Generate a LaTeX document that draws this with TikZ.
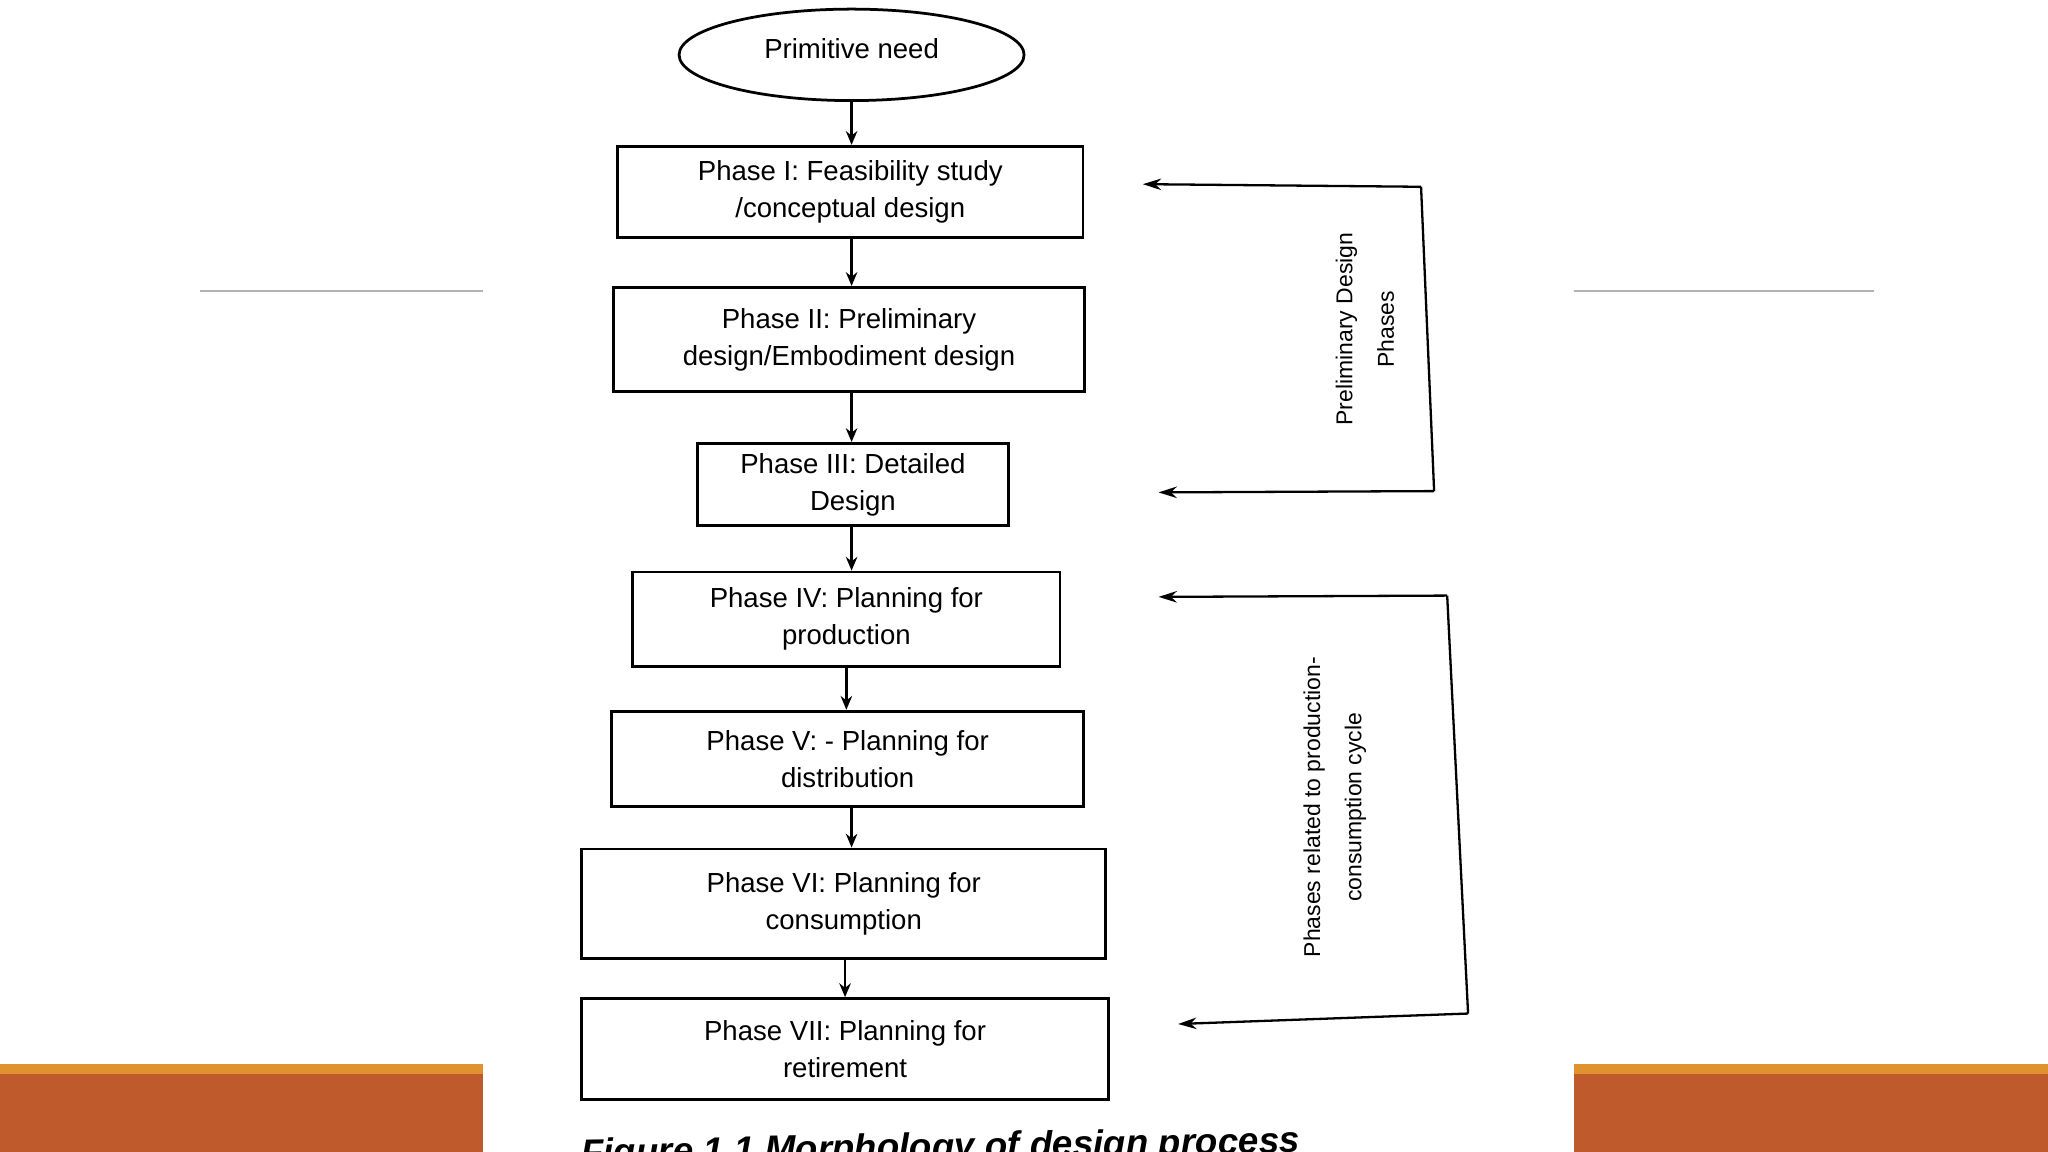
\documentclass[tikz,border=0pt]{standalone}
\usepackage{fontspec}
\setmainfont{Liberation Sans}
\usetikzlibrary{shapes.geometric,arrows.meta}
\definecolor{barorange}{HTML}{E0922F}
\definecolor{barrust}{HTML}{BF5A2C}
\begin{document}
\begin{tikzpicture}[x=0.01cm,y=-0.01cm,
  box/.style={draw,line width=0.6pt,inner sep=0pt,align=center,font=\fontsize{6}{8}\selectfont},
  arr/.style={-{Stealth[length=3pt,width=2.5pt]},line width=0.6pt},
  side/.style={-{Stealth[length=4pt,width=2.5pt]},line width=0.5pt},
  lab/.style={rotate=90,align=center,font=\fontsize{5}{9}\selectfont}]
\useasboundingbox (0,0) rectangle (1568,882);
\fill[white] (0,0) rectangle (1568,882);
\draw[gray!60,line width=0.4pt] (153,223) -- (370,223);
\draw[gray!60,line width=0.4pt] (1205,223) -- (1435,223);
\fill[barorange] (0,815) rectangle (370,822);
\fill[barorange] (1205,815) rectangle (1568,822);
\fill[barrust] (0,822) rectangle (370,882);
\fill[barrust] (1205,822) rectangle (1568,882);
\begin{scope}
\clip (370,0) rectangle (1205,882);
\node[draw,ellipse,line width=0.6pt,minimum width=2.64cm,minimum height=0.7cm,inner sep=0pt] (p0) at (652,42) {};
\node (t0) at (652,37) {\fontsize{6}{8}\selectfont Primitive need};
\node[box,minimum width=3.56cm,minimum height=0.7cm] (p1) at (651,147) {Phase I: Feasibility study\\/conceptual design};
\node[box,minimum width=3.6cm,minimum height=0.8cm] (p2) at (650,260) {Phase II: Preliminary\\design/Embodiment design};
\node[box,minimum width=2.38cm,minimum height=0.63cm] (p3) at (653,371) {Phase III: Detailed\\Design};
\node[box,minimum width=3.27cm,minimum height=0.72cm] (p4) at (648,474) {Phase IV: Planning for\\production};
\node[box,minimum width=3.61cm,minimum height=0.73cm] (p5) at (649,581) {Phase V: - Planning for\\distribution};
\node[box,minimum width=4.01cm,minimum height=0.84cm] (p6) at (646,692) {Phase VI: Planning for\\consumption};
\node[box,minimum width=4.03cm,minimum height=0.77cm] (p7) at (647,803) {Phase VII: Planning for\\retirement};
\draw[arr] (p0.south) -- (p1.north -| p0.south);
\draw[arr] (p1.south -| p0.south) -- (p2.north -| p0.south);
\draw[arr] (p2.south -| p0.south) -- (p3.north -| p0.south);
\draw[arr] (p3.south -| p0.south) -- (p4.north -| p0.south);
\draw[arr] (p4.south) -- (p5.north -| p4.south);
\draw[arr] (p5.south -| p0.south) -- (p6.north -| p0.south);
\draw[arr] (p6.south -| p7.north) -- (p7.north);
\coordinate (a1) at (875,141);
\coordinate (a2) at (887,377);
\coordinate (b1) at (887,457);
\coordinate (b2) at (902,784);
\coordinate (c1) at (1088,143);
\coordinate (c2) at (1098,376);
\coordinate (c3) at (1108,456);
\coordinate (c4) at (1124,776);
\draw[side] (c1) -- (a1);
\draw[line width=0.5pt] (c1) -- (c2);
\draw[side] (c2) -- (a2);
\draw[side] (c3) -- (b1);
\draw[line width=0.5pt] (c3) -- (c4);
\draw[side] (c4) -- (b2);
\node[lab] (l1) at (1045,252) {Preliminary Design\\Phases};
\node[lab] (l2) at (1022,618) {Phases related to production-\\consumption cycle};
\node[font=\bfseries\itshape\fontsize{8}{9}\selectfont,rotate=1] (cap) at (720,880) {Figure 1.1 Morphology of design process};
\end{scope}
\end{tikzpicture}
\end{document}
